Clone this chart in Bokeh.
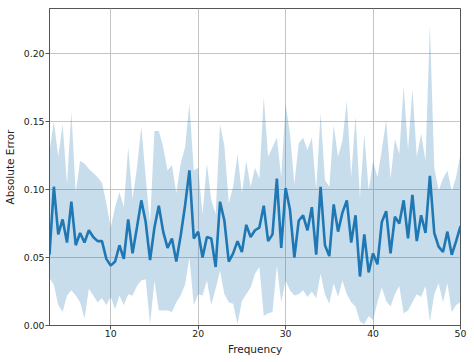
from bokeh.plotting import figure
from bokeh.models import Range1d, FixedTicker, NumeralTickFormatter
from bokeh.embed import file_html
from bokeh.resources import INLINE

freq = [3.0 + 0.5 * i for i in range(95)]

mean_err = [
    0.052, 0.102, 0.067, 0.078, 0.061, 0.091, 0.059, 0.068, 0.061, 0.070,
    0.065, 0.062, 0.062, 0.049, 0.044, 0.047, 0.059, 0.049, 0.078, 0.053,
    0.072, 0.092, 0.076, 0.048, 0.072, 0.088, 0.069, 0.057, 0.064, 0.047,
    0.066, 0.088, 0.114, 0.064, 0.069, 0.050, 0.065, 0.064, 0.043, 0.091,
    0.077, 0.047, 0.053, 0.062, 0.054, 0.074, 0.065, 0.070, 0.072, 0.088,
    0.062, 0.067, 0.108, 0.057, 0.101, 0.085, 0.050, 0.077, 0.081, 0.070,
    0.087, 0.052, 0.102, 0.059, 0.051, 0.089, 0.069, 0.083, 0.092, 0.061,
    0.081, 0.036, 0.067, 0.039, 0.053, 0.045, 0.076, 0.084, 0.053, 0.080,
    0.075, 0.092, 0.064, 0.096, 0.062, 0.081, 0.068, 0.110, 0.068, 0.058,
    0.054, 0.069, 0.052, 0.062, 0.073,
]

upper = [
    0.128, 0.150, 0.124, 0.148, 0.104, 0.157, 0.098, 0.121, 0.119, 0.115,
    0.112, 0.109, 0.105, 0.090, 0.072, 0.087, 0.098, 0.087, 0.131, 0.093,
    0.116, 0.146, 0.109, 0.075, 0.143, 0.143, 0.131, 0.114, 0.118, 0.097,
    0.119, 0.131, 0.163, 0.114, 0.116, 0.082, 0.119, 0.092, 0.082, 0.148,
    0.132, 0.090, 0.102, 0.126, 0.097, 0.121, 0.102, 0.116, 0.108, 0.168,
    0.124, 0.131, 0.138, 0.109, 0.163, 0.141, 0.104, 0.134, 0.138, 0.129,
    0.138, 0.100, 0.156, 0.107, 0.102, 0.147, 0.124, 0.136, 0.165, 0.109,
    0.154, 0.094, 0.141, 0.099, 0.121, 0.109, 0.129, 0.151, 0.108, 0.137,
    0.126, 0.176, 0.129, 0.174, 0.124, 0.141, 0.121, 0.221, 0.116, 0.099,
    0.108, 0.114, 0.099, 0.109, 0.126,
]

lower = [
    0.035, 0.030, 0.015, 0.010, 0.022, 0.026, 0.022, 0.017, 0.005, 0.027,
    0.022, 0.017, 0.020, 0.015, 0.021, 0.012, 0.022, 0.015, 0.023, 0.022,
    0.029, 0.033, 0.034, 0.001, 0.033, 0.011, 0.011, 0.011, 0.010, 0.017,
    0.022, 0.030, 0.050, 0.015, 0.023, 0.022, 0.033, 0.015, 0.027, 0.040,
    0.023, 0.017, 0.016, 0.001, 0.018, 0.023, 0.028, 0.038, 0.043, 0.007,
    0.009, 0.010, 0.044, 0.017, 0.033, 0.026, 0.022, 0.023, 0.026, 0.021,
    0.025, 0.020, 0.038, 0.023, 0.016, 0.031, 0.021, 0.033, 0.023, 0.017,
    0.014, 0.003, 0.001, 0.007, 0.004, 0.017, 0.028, 0.018, 0.014, 0.023,
    0.029, 0.009, 0.011, 0.017, 0.023, 0.021, 0.029, 0.003, 0.023, 0.031,
    0.017, 0.031, 0.010, 0.015, 0.017,
]

x_ticks = [10, 20, 30, 40, 50]
y_ticks = [0.0, 0.05, 0.10, 0.15, 0.20]

FONT = "DejaVu Sans"
BLUE = "#1f77b4"

p = figure(width=474, height=362, output_backend="svg", toolbar_location=None,
           x_range=Range1d(3, 50), y_range=Range1d(0, 0.233),
           min_border_left=48, min_border_right=14, min_border_top=8,
           min_border_bottom=37)

p.varea(x=freq, y1=lower, y2=upper, fill_color=BLUE, fill_alpha=0.25)
p.line(freq, mean_err, line_color=BLUE, line_width=2.6)

p.xaxis.ticker = FixedTicker(ticks=x_ticks)
p.yaxis.ticker = FixedTicker(ticks=y_ticks)
p.yaxis.formatter = NumeralTickFormatter(format="0.00")
p.xaxis.axis_label = "Frequency"
p.yaxis.axis_label = "Absolute Error"

for ax in (p.xaxis[0], p.yaxis[0]):
    ax.axis_label_text_font = FONT
    ax.axis_label_text_font_size = "10.5px"
    ax.axis_label_text_font_style = "normal"
    ax.major_label_text_font = FONT
    ax.major_label_text_font_size = "9.3px"
    ax.major_label_text_color = "#222222"
    ax.axis_label_text_color = "#222222"
    ax.minor_tick_line_color = None
    ax.major_tick_in = 0
    ax.major_tick_out = 4
    ax.axis_line_color = "#555555"
    ax.major_tick_line_color = "#555555"

p.xaxis.major_label_standoff = 0
p.xaxis.axis_label_standoff = 3
p.yaxis.major_label_standoff = 1
p.yaxis.axis_label_standoff = 5

p.xgrid.grid_line_color = "#c4c4c4"
p.ygrid.grid_line_color = "#c4c4c4"
p.outline_line_color = "#555555"
p.outline_line_alpha = 1.0
p.background_fill_color = "white"
p.border_fill_color = "white"

open("out.html", "w").write(file_html(p, INLINE))
